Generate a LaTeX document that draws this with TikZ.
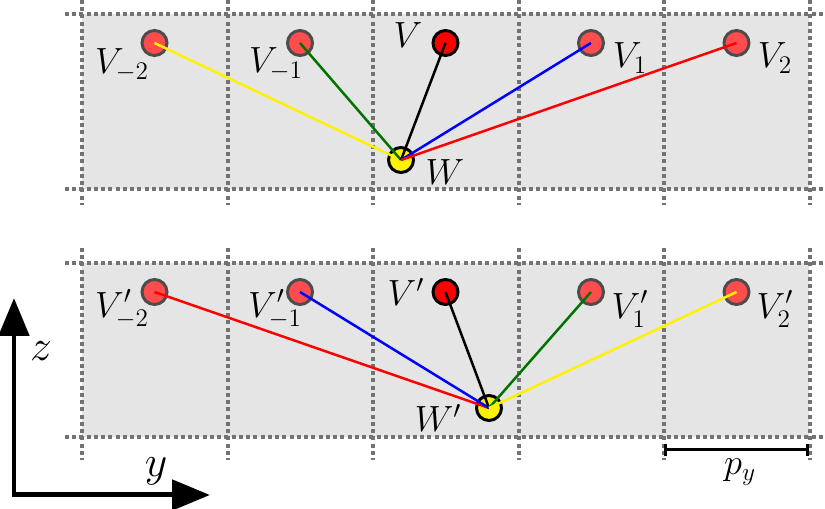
\documentclass[tikz,border=0pt]{standalone}
\usetikzlibrary{arrows.meta}
\tikzstyle{site}=[shape=circle,minimum size=0.5cm,inner sep=0,line width=0.06cm,draw=black!70,fill=red!70]
\tikzstyle{home}=[shape=circle,minimum size=0.5cm,inner sep=0,line width=0.06cm,draw=black,fill=red]
\tikzstyle{probe}=[shape=circle,minimum size=0.5cm,inner sep=0,line width=0.06cm,draw=black,fill=yellow]
\tikzstyle{tag}=[inner sep=0]
\tikzstyle{border}=[draw=black!55,line width=0.08cm,dash pattern=on 0.08cm off 0.065cm]
\tikzstyle{bond}=[line width=0.05cm]
\tikzstyle{axis}=[line width=0.1cm,{Triangle[length=0.76cm,width=0.6cm]}-{Triangle[length=0.76cm,width=0.6cm]}]
\definecolor{bondgreen}{rgb}{0,0.45,0}

\begin{document}
\begin{tikzpicture}[x=0.02cm,y=-0.02cm,font=\fontsize{20}{24}\selectfont]
\useasboundingbox (0,0) rectangle (825,509);
% cells
\fill[gray!20] (82,14) rectangle (809,189);
\fill[gray!20] (82,263) rectangle (809,437);
\foreach \x in {82,227.5,373,518.5,664,809.5}{
	\draw[border] (\x,0)--(\x,205);
	\draw[border] (\x,248)--(\x,460);}
\foreach \y in {14,189,263,437}{
	\draw[border] (65,\y)--(825,\y);}

% top row
\node[site] (vm2) at (154.5,43) {};
\node[site] (vm1) at (300,43) {};
\node[home] (v) at (445.5,43) {};
\node[site] (v1) at (591,43) {};
\node[site] (v2) at (736.5,43) {};
\node[probe] (w) at (401,160) {};
\node[tag] (lvm2) at (122,65) {$V_{-2}$};
\node[tag] (lvm1) at (276,64) {$V_{-1}$};
\node[tag] (lv) at (408,35) {$V$};
\node[tag] (lv1) at (630,58) {$V_1$};
\node[tag] (lv2) at (775,58) {$V_2$};
\node[tag] (lw) at (445,172) {$W$};
\draw[bond,yellow] (vm2.center)--(w.center);
\draw[bond,bondgreen] (vm1.center)--(w.center);
\draw[bond,black] (v.center)--(w.center);
\draw[bond,blue] (v1.center)--(w.center);
\draw[bond,red] (v2.center)--(w.center);

% bottom row
\node[site] (pm2) at (154.5,292) {};
\node[site] (pm1) at (300,292) {};
\node[home] (p) at (445.5,292) {};
\node[site] (p1) at (591,292) {};
\node[site] (p2) at (736.5,292) {};
\node[probe] (pw) at (489,408) {};
\node[tag] (lpm2) at (122,309) {$V'_{-2}$};
\node[tag] (lpm1) at (275,309) {$V'_{-1}$};
\node[tag] (lp) at (406,292) {$V'$};
\node[tag] (lp1) at (630,309) {$V'_1$};
\node[tag] (lp2) at (775,309) {$V'_2$};
\node[tag] (lpw) at (438,418) {$W'$};
\draw[bond,red] (pm2.center)--(pw.center);
\draw[bond,blue] (pm1.center)--(pw.center);
\draw[bond,black] (p.center)--(pw.center);
\draw[bond,bondgreen] (p1.center)--(pw.center);
\draw[bond,yellow] (p2.center)--(pw.center);

% period
\coordinate (pl) at (664,450);
\coordinate (pr) at (809,450);
\draw[line width=0.06cm,{Bar[width=0.24cm]}-{Bar[width=0.24cm]}] (pl)--(pr);
\node[tag] (lpy) at (740,472) {$p_y$};

% axes
\coordinate (ztip) at (14,298);
\coordinate (ytip) at (210,495);
\draw[axis] (ztip) |- (ytip);
\node[tag,font=\fontsize{28}{32}\selectfont] (lz) at (41,351) {$z$};
\node[tag,font=\fontsize{28}{32}\selectfont] (ly) at (156,471) {$y$};
\end{tikzpicture}
\end{document}
